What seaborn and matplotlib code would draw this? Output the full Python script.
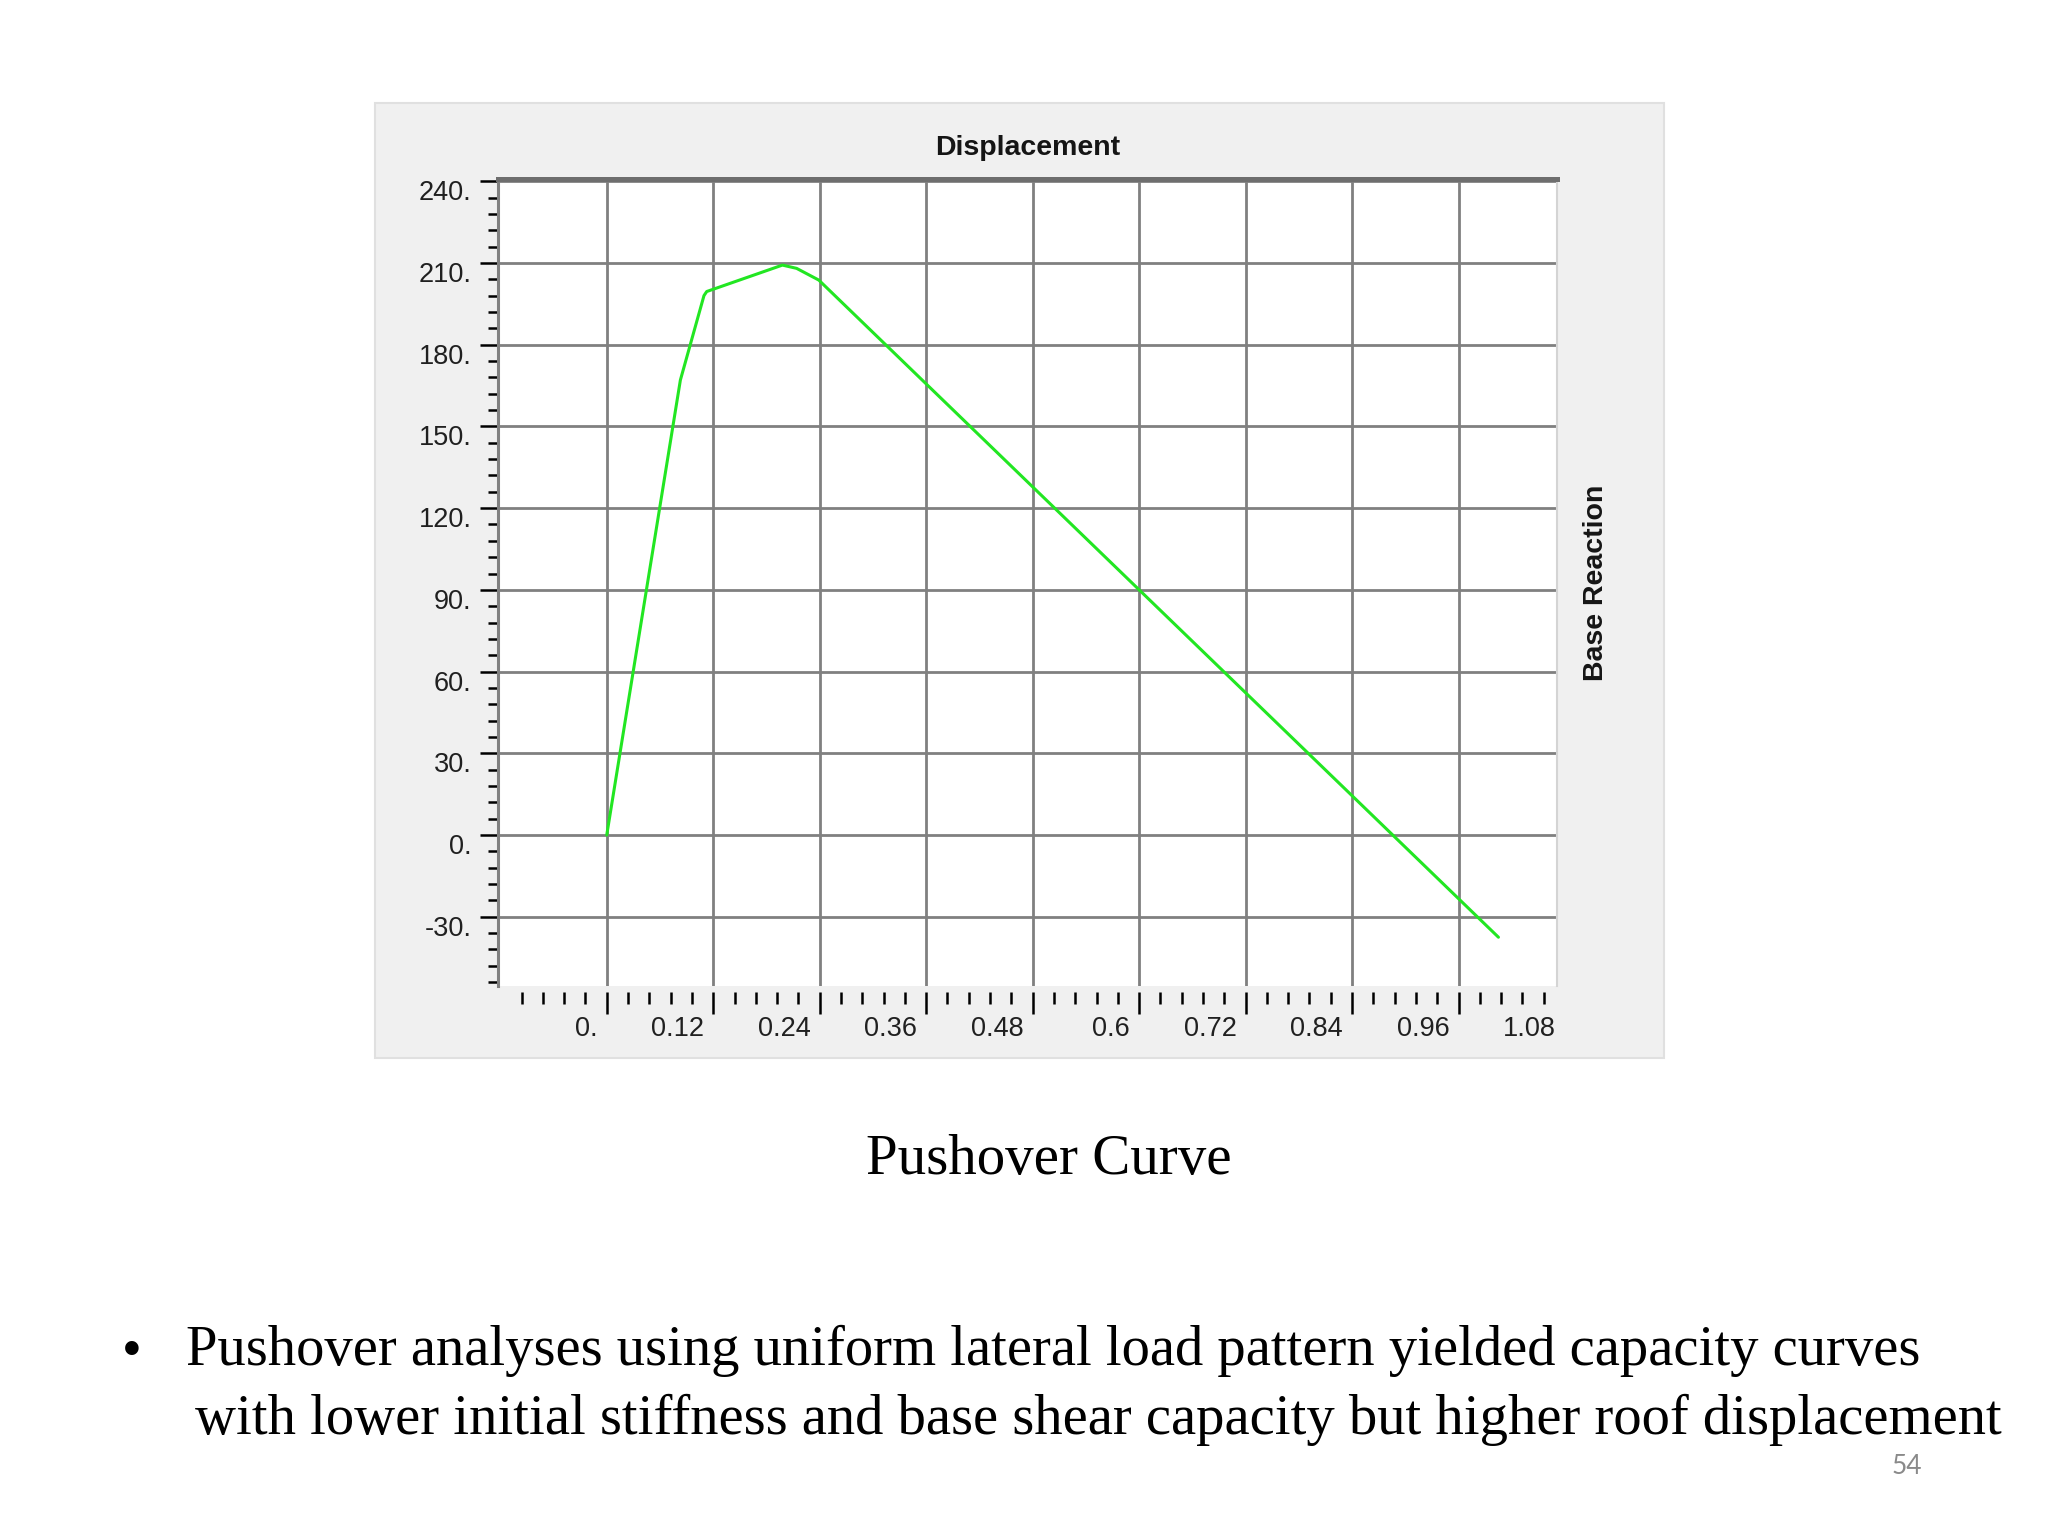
import numpy as np
import pandas as pd
import seaborn as sns
import matplotlib.pyplot as plt
from matplotlib.patches import Rectangle
from matplotlib.ticker import FixedLocator
from matplotlib.transforms import blended_transform_factory, offset_copy

# Pushover curve
displacement = [0.0, 0.083, 0.1096, 0.1127, 0.198, 0.214, 0.239, 1.005]
base_reaction = [0.0, 167.0, 198.0, 199.5, 209.2, 208.0, 203.7, -37.5]

x_grid = [0.0, 0.12, 0.24, 0.36, 0.48, 0.6, 0.72, 0.84, 0.96]
x_label_vals = [0.0, 0.12, 0.24, 0.36, 0.48, 0.6, 0.72, 0.84, 0.96, 1.08]
x_labels = ["0.", "0.12", "0.24", "0.36", "0.48", "0.6", "0.72", "0.84", "0.96", "1.08"]
y_grid = [-30, 0, 30, 60, 90, 120, 150, 180, 210, 240]
y_labels = ["-30.", "0.", "30.", "60.", "90.", "120.", "150.", "180.", "210.", "240."]

caption = "Pushover Curve"
bullet_lines = [
    "Pushover analyses using uniform lateral load pattern yielded capacity curves",
    "with lower initial stiffness and base shear capacity but higher roof displacement",
]
page_no = "54"

df = pd.DataFrame({"Displacement": displacement, "Base Reaction": base_reaction})

sns.set_style("white", {"xtick.bottom": True, "ytick.left": True})
plt.rcParams['font.family'] = ['Liberation Sans', 'DejaVu Sans']

W, H = 2048, 1536
fig = plt.figure(figsize=(W / 100, H / 100), dpi=100)
fig.patch.set_facecolor("white")

# grey panel behind the screenshot plot
panel = Rectangle((375 / W, 1 - 1058 / H), (1664 - 375) / W, (1058 - 103) / H,
                  transform=fig.transFigure, facecolor="#f0f0f0",
                  edgecolor="#e0e0e0", lw=1.5, zorder=-1)
fig.patches.append(panel)

ax = fig.add_axes([497.6 / W, 1 - 986 / H, (1557 - 497.6) / W, (986 - 179) / H])
ax.set_facecolor("white")

sns.lineplot(data=df, x="Displacement", y="Base Reaction", ax=ax,
             color="#22e622", lw=2.2, sort=False, estimator=None)

ax.set_xlim(-0.123, 1.071)
ax.set_ylim(-55.4, 240.8)
ax.set_xlabel("")
ax.set_ylabel("")

ax.xaxis.set_major_locator(FixedLocator(x_grid))
ax.xaxis.set_minor_locator(FixedLocator(np.arange(-0.096, 1.07, 0.024)))
ax.yaxis.set_major_locator(FixedLocator(y_grid))
ax.yaxis.set_minor_locator(FixedLocator(np.arange(-54, 241, 6)))
ax.tick_params(labelbottom=False, labelleft=False)
ax.tick_params(axis="x", which="major", length=16, width=1.8, color="black")
ax.tick_params(axis="x", which="minor", length=8.6, width=1.8, color="black")
ax.tick_params(axis="y", which="major", length=13, width=1.8, color="black")
ax.tick_params(axis="y", which="minor", length=7.2, width=1.8, color="black")

ax.grid(True, which="major", color="#808080", lw=2.0)
ax.set_axisbelow(True)

ax.spines["left"].set_color("#808080")
ax.spines["left"].set_linewidth(2.2)
ax.spines["top"].set_color("#6e6e6e")
ax.spines["top"].set_linewidth(3.6)
ax.spines["right"].set_color("#d4d4d4")
ax.spines["right"].set_linewidth(1.5)
ax.spines["bottom"].set_position(("outward", 4))
ax.spines["bottom"].set_color("none")

# tick labels sit a little left/below their ticks, like in the original
xt = offset_copy(blended_transform_factory(ax.transData, ax.transAxes),
                 fig=fig, x=-9, y=-43, units="dots")
for v, s in zip(x_label_vals, x_labels):
    ax.text(v, 0, s, transform=xt, ha="right", va="center",
            fontsize=19.5, color="#202020", clip_on=False)

yt = offset_copy(blended_transform_factory(ax.transAxes, ax.transData),
                 fig=fig, x=-26, y=-12, units="dots")
for v, s in zip(y_grid, y_labels):
    ax.text(0, v, s, transform=yt, ha="right", va="center",
            fontsize=19.5, color="#202020", clip_on=False)

tt = offset_copy(ax.transAxes, fig=fig, x=0, y=31, units="dots")
ax.text(0.5, 1, "Displacement", transform=tt, ha="center", va="center",
        fontsize=20.5, fontweight="bold", color="#151515")
rt = offset_copy(ax.transAxes, fig=fig, x=39, y=0, units="dots")
ax.text(1, 0.5, "Base Reaction", transform=rt, ha="center", va="center",
        rotation=90, fontsize=20.5, fontweight="bold", color="#151515")

# slide text
fig.text(1049 / W, 1 - 1160 / H, caption, ha="center", va="center",
         fontsize=41, family="Liberation Serif", color="black")
fig.text(132 / W, 1 - 1353 / H, "\u2022", ha="center", va="center",
         fontsize=40.8, family="Liberation Serif", color="black")
fig.text(185.5 / W, 1 - 1351 / H, bullet_lines[0], ha="left", va="center",
         fontsize=40.8, family="Liberation Serif", color="black")
fig.text(194.6 / W, 1 - 1420 / H, bullet_lines[1], ha="left", va="center",
         fontsize=40.8, family="Liberation Serif", color="black")
fig.text(1907 / W, 1 - 1466 / H, page_no, ha="center", va="center",
         fontsize=19, family="Lato", color="#8a8a8a")

fig.savefig("out.png", dpi=100)
